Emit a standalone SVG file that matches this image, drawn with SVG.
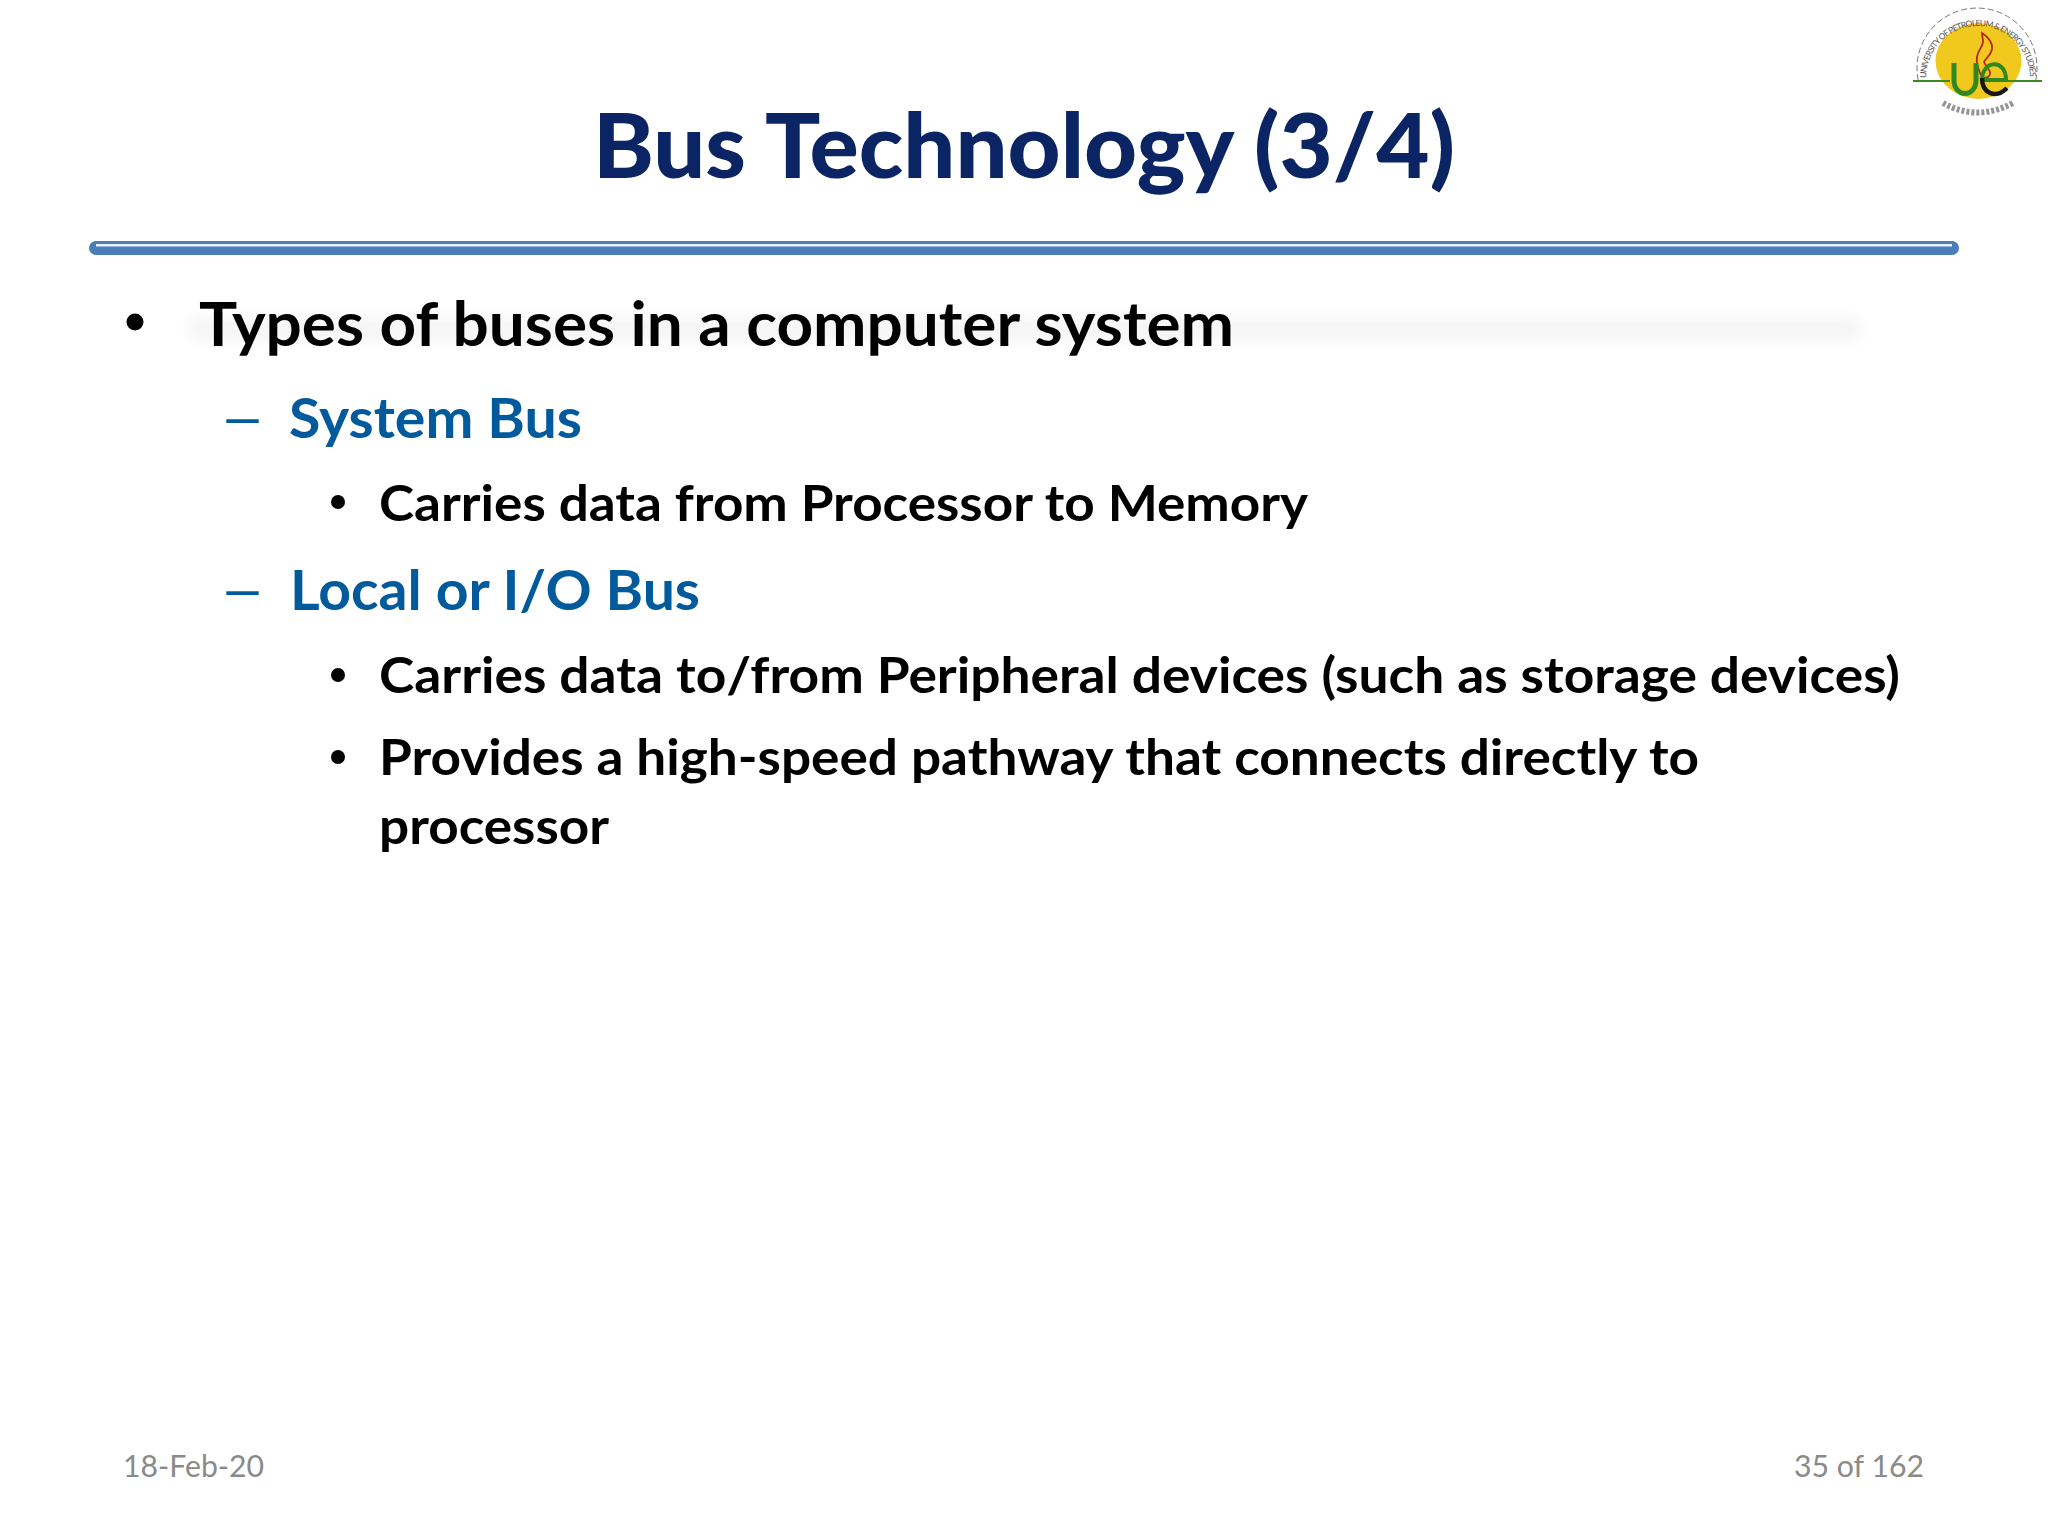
<svg xmlns="http://www.w3.org/2000/svg" width="2048" height="1536" viewBox="0 0 2048 1536">
<style>
text{font-family:Lato,"Open Sans","Liberation Sans",sans-serif}
.b{font-weight:700;fill:#000}
.l1{font-size:62px}.l2{font-size:56px;fill:#005a9c;font-weight:700}.l3{font-size:50px}
.d{font-size:56px;fill:#005a9c;font-weight:400}
.f{font-size:31px;fill:#8a8a8a}
</style>
<defs>
<filter id="blur" x="-5%" y="-100%" width="110%" height="300%"><feGaussianBlur stdDeviation="7"/></filter>
<path id="ring" d="M1926 78A52 52 0 1 1 2030 78"/>
</defs>
<rect width="2048" height="1536" fill="#fff"/>
<rect x="190" y="318" width="1670" height="22" fill="#f4f4f4" filter="url(#blur)"/>
<text x="593" y="178" font-size="90" font-weight="900" fill="#0a2464" textLength="862" lengthAdjust="spacingAndGlyphs">Bus Technology (3/4)</text>
<g id="rule">
<rect x="89" y="241" width="1870" height="14" rx="7" fill="#4a7ebb"/>
<rect x="96" y="244" width="1856" height="2.5" fill="#e8f0fa"/>
</g>
<circle cx="135" cy="322" r="8.5"/><text x="199" y="346" class="b l1" textLength="1035" lengthAdjust="spacingAndGlyphs">Types of buses in a computer system</text>
<text x="219" y="438" class="d" textLength="47" lengthAdjust="spacingAndGlyphs">–</text><text x="289" y="438" class="l2" textLength="293" lengthAdjust="spacingAndGlyphs">System Bus</text>
<circle cx="338" cy="502" r="7"/><text x="379" y="521" class="b l3" textLength="929" lengthAdjust="spacingAndGlyphs">Carries data from Processor to Memory</text>
<text x="219" y="610" class="d" textLength="47" lengthAdjust="spacingAndGlyphs">–</text><text x="290" y="610" class="l2" textLength="410" lengthAdjust="spacingAndGlyphs">Local or I/O Bus</text>
<circle cx="338" cy="675" r="7"/><text x="379" y="693" class="b l3" textLength="1521" lengthAdjust="spacingAndGlyphs">Carries data to/from Peripheral devices (such as storage devices)</text>
<circle cx="338" cy="757" r="7"/><text x="379" y="775" class="b l3" textLength="1320" lengthAdjust="spacingAndGlyphs">Provides a high-speed pathway that connects directly to</text>
<text x="379" y="844" class="b l3" textLength="230" lengthAdjust="spacingAndGlyphs">processor</text>
<text x="123" y="1477" class="f" textLength="141" lengthAdjust="spacingAndGlyphs">18-Feb-20</text>
<text x="1794" y="1477" class="f" textLength="130" lengthAdjust="spacingAndGlyphs">35 of 162</text>
<g id="logo">
<ellipse cx="1978.5" cy="61" rx="43" ry="38" fill="#f1c81e"/>
<path d="M1913 81H1950M2008 81H2042" stroke="#3d8b1f" stroke-width="2" fill="none"/>
<path d="M1982 33C1988 37 1993 42 1992 49C1991 55 1986 58 1984 62C1986 67 1991 70 1990 74C1989 78 1986 78 1984 78C1980 76 1976 64 1977 57C1978 50 1983 46 1983 42C1983 38 1982 36 1982 33Z" fill="none" stroke="#b3271e" stroke-width="1.8"/>
<path d="M1954 63V80C1954 98 1976 98 1976 80V63" fill="none" stroke="#2f8a1e" stroke-width="5"/>
<path d="M1984 80H2006C2006 58 1982 60 1982 80" fill="none" stroke="#2f8a1e" stroke-width="4"/>
<path d="M1982 78C1982 94 1996 99 2007 88" fill="none" stroke="#161616" stroke-width="4.5"/>
<text font-size="8.5" fill="#555"><textPath href="#ring" textLength="162">UNIVERSITY OF PETROLEUM &amp; ENERGY STUDIES</textPath></text>
<path d="M1918.2 80A60 60 0 1 1 2035.8 80" fill="none" stroke="#777" stroke-width="1" stroke-dasharray="6 3"/>
<path d="M1943 103Q1977 122 2013 103" fill="none" stroke="#666" stroke-width="6" stroke-dasharray="3 2" opacity=".7"/>
</g>
</svg>
